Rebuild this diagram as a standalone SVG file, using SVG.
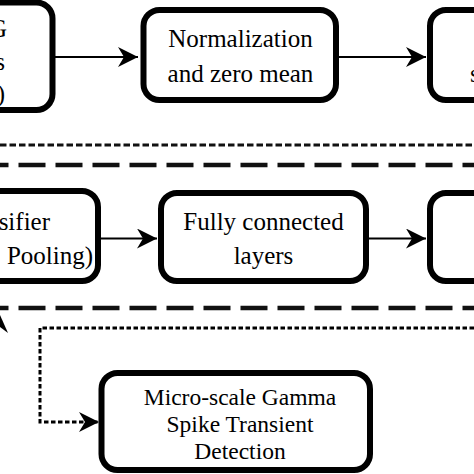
<svg xmlns="http://www.w3.org/2000/svg" width="474" height="474" viewBox="0 0 474 474">
<style>
text{font-family:'Liberation Serif','Times New Roman','DejaVu Serif',serif;fill:#000}
.t{font-size:25px;text-anchor:middle}
.te{font-size:25px;text-anchor:end}
.ts{font-size:25px;text-anchor:start}
.tb{font-size:23.5px;text-anchor:middle}
.box{fill:#fff;stroke:#000;stroke-width:6}
.arrow{fill:none;stroke:#000;stroke-width:2.2}
.dot{fill:none;stroke:#000;stroke-width:3;stroke-dasharray:4.5 2.5}
.sdash{fill:none;stroke:#111;stroke-width:3.2;stroke-dasharray:6.5 3}
.ldash{fill:none;stroke:#111;stroke-width:4.5;stroke-dasharray:27 10;stroke-dashoffset:18.5}
</style>
<defs>
<marker id="ah" viewBox="0 0 20 20" refX="20" refY="10" markerWidth="20" markerHeight="20" markerUnits="userSpaceOnUse" orient="auto">
<path d="M0,0 L20,10 L0,20 L6,10 Z" fill="#000"/>
</marker>
</defs>
<rect width="474" height="474" fill="#fff"/>
<g id="connectors">
<line class="arrow" x1="55" y1="57" x2="138" y2="57" marker-end="url(#ah)"/>
<line class="arrow" x1="339" y1="57" x2="426" y2="57" marker-end="url(#ah)"/>
<line class="arrow" x1="100" y1="238.5" x2="157" y2="238.5" marker-end="url(#ah)"/>
<line class="arrow" x1="368" y1="238.5" x2="426" y2="238.5" marker-end="url(#ah)"/>
<path class="dot" d="M474,328 H40 V422 H99" marker-end="url(#ah)"/>
<polygon points="0,315 8,333 0,327" fill="#000"/>
</g>
<g id="separators">
<line class="sdash" x1="0" y1="145" x2="474" y2="145"/>
<line class="ldash" x1="0" y1="165" x2="474" y2="165"/>
<line class="ldash" x1="0" y1="308" x2="474" y2="308"/>
</g>
<g id="node-input">
<rect class="box" x="-150" y="2.5" width="202.5" height="107.5" rx="16"/>
<text class="te" x="7" y="37" font-family="Liberation Serif, serif">G</text>
<text class="te" x="5" y="70" font-family="Liberation Serif, serif">s</text>
<text class="te" x="5" y="102" font-family="Liberation Serif, serif">)</text>
</g>
<g id="node-normalization">
<rect class="box" x="143.5" y="10" width="192.5" height="90" rx="16"/>
<text class="t" x="240.5" y="47" font-family="Liberation Serif, serif">Normalization</text>
<text class="t" x="240.5" y="82" font-family="Liberation Serif, serif">and zero mean</text>
</g>
<g id="node-top-right">
<rect class="box" x="430" y="10" width="200" height="90" rx="16"/>
<text class="ts" x="470" y="82" font-family="Liberation Serif, serif">s</text>
</g>
<g id="node-classifier">
<rect class="box" x="-150" y="191" width="248" height="90" rx="16"/>
<text class="te" x="50" y="230" font-family="Liberation Serif, serif">sifier</text>
<text class="te" x="93" y="264" font-family="Liberation Serif, serif">Pooling)</text>
</g>
<g id="node-fully-connected">
<rect class="box" x="161" y="193" width="205" height="88" rx="16"/>
<text class="t" x="263.5" y="230" font-family="Liberation Serif, serif">Fully connected</text>
<text class="t" x="263.5" y="264" font-family="Liberation Serif, serif">layers</text>
</g>
<g id="node-mid-right">
<rect class="box" x="430" y="193" width="200" height="88" rx="16"/>
</g>
<g id="node-gamma">
<rect class="box" x="101.5" y="373" width="268.5" height="97" rx="16"/>
<text class="tb" x="240" y="405" font-family="Liberation Serif, serif">Micro-scale Gamma</text>
<text class="tb" x="240" y="432" font-family="Liberation Serif, serif">Spike Transient</text>
<text class="tb" x="240" y="459" font-family="Liberation Serif, serif">Detection</text>
</g>
</svg>
